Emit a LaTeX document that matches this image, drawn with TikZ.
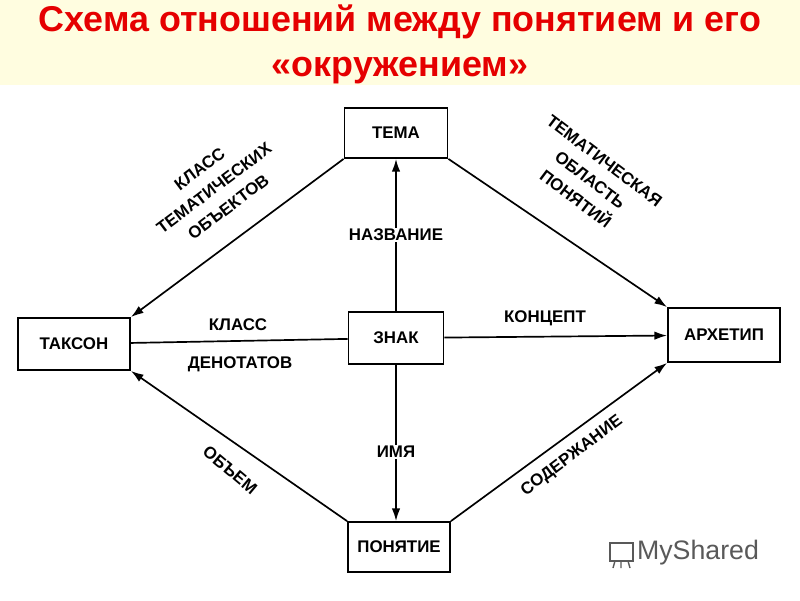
\documentclass[tikz,border=0pt]{standalone}
\usepackage{fontspec}
\setmainfont{Liberation Sans}
\usetikzlibrary{arrows.meta}
\begin{document}
\begin{tikzpicture}[x=0.025cm,y=-0.025cm,
  box/.style={draw,line width=1.3pt,inner sep=0pt,font=\bfseries\fontsize{12}{14}\selectfont},
  lab/.style={font=\bfseries\fontsize{12}{17}\selectfont,align=center,inner sep=1pt},
  arr/.style={line width=1.2pt,-{Latex[length=9pt,width=6pt]}},
  ln/.style={line width=1.2pt}]
\useasboundingbox (0,0) rectangle (800,600);
\fill[yellow!12] (0,0) rectangle (800,85);
\node[font=\bfseries\fontsize{25.5}{32}\selectfont,text=red!90!black,align=center] (title) at (400,44) {Схема отношений между понятием и его\\«окружением»};
\node[box,minimum width=2.575cm,minimum height=1.25cm] (tema) at (396,133) {ТЕМА};
\node[box,minimum width=2.8cm,minimum height=1.3cm] (taks) at (74,344) {ТАКСОН};
\node[box,minimum width=2.375cm,minimum height=1.3cm] (znak) at (396,338) {ЗНАК};
\node[box,minimum width=2.8cm,minimum height=1.35cm] (arh) at (724,335) {АРХЕТИП};
\node[box,minimum width=2.55cm,minimum height=1.25cm] (pon) at (399,547) {ПОНЯТИЕ};
\draw[arr] (tema.south west) -- (taks.north east);
\draw[arr] (tema.south east) -- (arh.north west);
\draw[arr] (znak) -- (tema);
\draw[arr] (znak) -- (arh);
\draw[arr] (znak.south) -- (znak.south |- pon.north);
\draw[ln] (znak) -- (taks);
\draw[arr] (pon.north west) -- (taks.south east);
\draw[arr] (pon.north east) -- (arh.south west);
\node[lab] (l1) at (214,188) [rotate=37] {КЛАСС\\ТЕМАТИЧЕСКИХ\\ОБЪЕКТОВ};
\node[lab] (l2) at (590,180) [rotate=-37] {ТЕМАТИЧЕСКАЯ\\ОБЛАСТЬ\\ПОНЯТИЙ};
\node[lab,fill=white] (l3) at (396,235) {НАЗВАНИЕ};
\node[lab] (l4) at (238,325) {КЛАСС};
\node[lab] (l5) at (240,364) {ДЕНОТАТОВ};
\node[lab] (l6) at (545,318) {КОНЦЕПТ};
\node[lab,fill=white] (l7) at (396,452) {ИМЯ};
\node[lab] (l8) at (230,470) [rotate=-40] {ОБЪЕМ};
\node[lab] (l9) at (572,456) [rotate=37] {СОДЕРЖАНИЕ};
\node[font=\fontsize{19}{22}\selectfont,text=black!65] (ms) at (698,553) {MyShared};
\draw[black!65,line width=1pt] (610,543) rectangle (633,561);
\draw[black!65,line width=1pt] (615,561) -- (613,568) (621,561)--(621,568) (628,561)--(630,568);
\end{tikzpicture}
\end{document}
